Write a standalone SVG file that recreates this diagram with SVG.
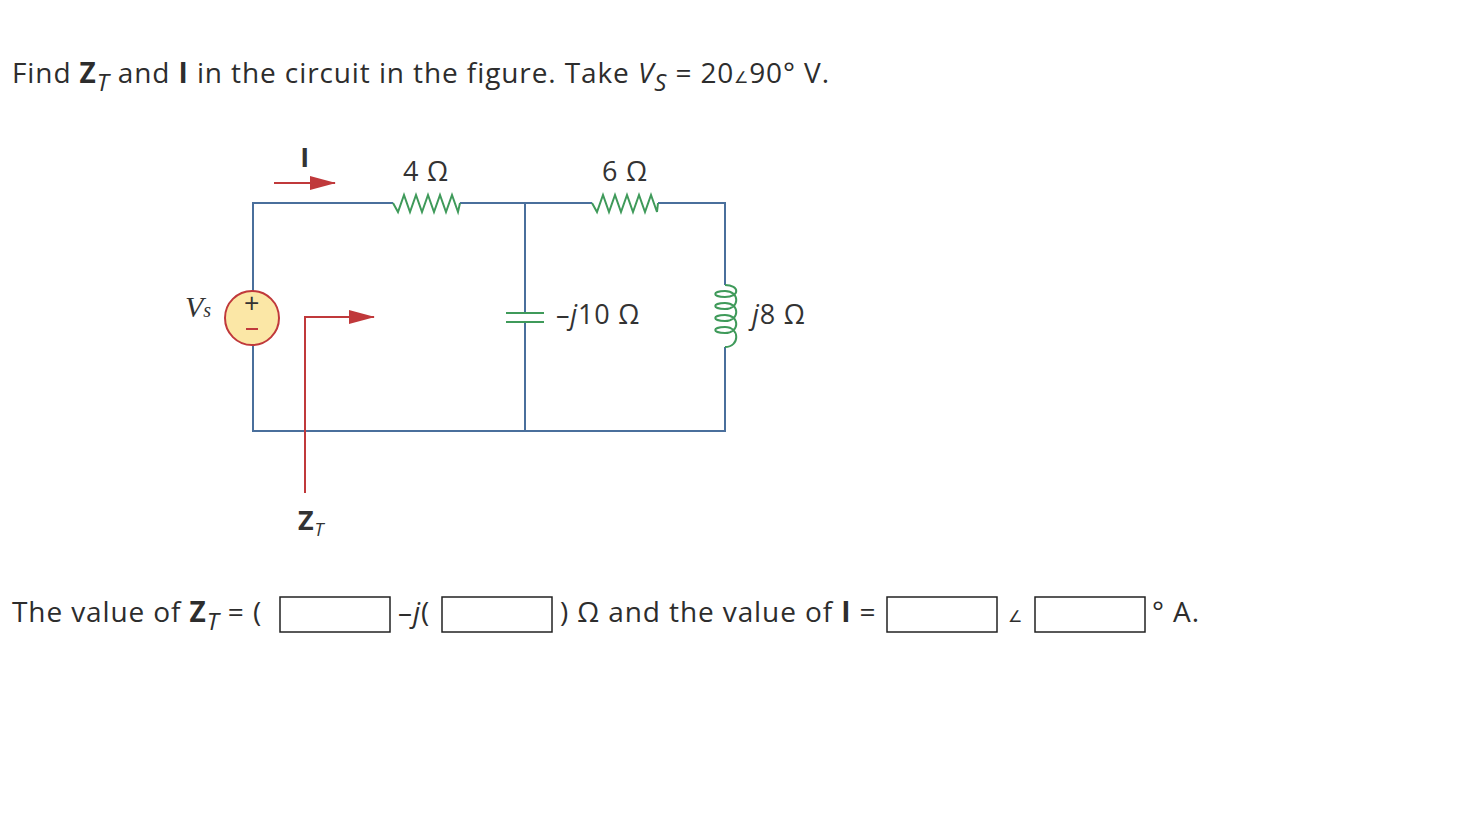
<svg xmlns="http://www.w3.org/2000/svg" width="1474" height="816" viewBox="0 0 1474 816">
<style>
.t{font-family:"Open Sans","Liberation Sans",sans-serif;font-size:28px;fill:#2d2d2d;letter-spacing:0.9px}
.c{font-family:"Open Sans","Liberation Sans",sans-serif;font-size:27px;fill:#333;letter-spacing:0.8px}
.w{stroke:#4a6f9c;stroke-width:2;fill:none}
.g{stroke:#3f9a5a;stroke-width:2;fill:none}
.r{stroke:#c0393b;stroke-width:2;fill:none}
.box{fill:#fff;stroke:#222;stroke-width:1.5}
</style>
<defs><marker id="ah" markerWidth="26" markerHeight="14" refX="25" refY="7" orient="auto" markerUnits="userSpaceOnUse"><path d="M0,0 L26,7 L0,14 Z" fill="#c0393b"/></marker></defs>
<rect width="1474" height="816" fill="#fff"/>
<text class="t" x="12" y="83">Find <tspan font-weight="bold">Z</tspan><tspan font-style="italic" font-size="24" dy="8">T</tspan><tspan dy="-8"> and </tspan><tspan font-weight="bold">I</tspan> in the circuit in the figure. Take <tspan font-style="italic">V</tspan><tspan font-style="italic" font-size="24" dy="8">S</tspan><tspan dy="-8"> = 20</tspan><tspan font-size="16">∠</tspan>90° V.</text>
<g id="connectors">
<path class="w" d="M253,291 V203 H393 M460,203 H592 M658,203 H725 V285 M725,347 V431 H253 V346 M525,203 V313 M525,322 V431"/>
<path class="r" d="M274,183 H335" marker-end="url(#ah)"/>
<path class="r" d="M305,493 V317 H374" marker-end="url(#ah)"/>
</g>
<g id="source"><ellipse cx="252" cy="318" rx="27" ry="27" fill="#fbe7a6" stroke="#c0393b" stroke-width="2"/>
<text class="c" x="252" y="313" font-size="22" text-anchor="middle" fill="#c0393b">+</text>
<path d="M246,329 H258" stroke="#c0393b" stroke-width="2"/>
<text x="198" y="317" font-family="Liberation Serif,serif" font-style="italic" font-size="30" text-anchor="middle" fill="#333">V<tspan font-size="20">s</tspan></text></g>
<g id="r4"><path class="g" d="M393,203 L398,212 L404,195 L410,212 L416,195 L422,212 L428,195 L434,212 L440,195 L446,212 L452,195 L458,212 L460,203"/>
<text class="c" x="426" y="181" text-anchor="middle">4 Ω</text></g>
<g id="r6"><path class="g" d="M592,203 L597,212 L603,195 L609,212 L615,195 L621,212 L627,195 L633,212 L639,195 L645,212 L651,195 L657,212 L658,203"/>
<text class="c" x="625" y="181" text-anchor="middle">6 Ω</text></g>
<g id="cap"><path class="g" d="M506,313 H544 M506,322 H544"/>
<text class="c" x="556" y="324">–<tspan font-style="italic">j</tspan>10 Ω</text></g>
<g id="ind"><path class="g" d="M725,285 C740,285 740,297 725,297 C712,297 712,291 725,291 C740,291 740,309 725,309 C712,309 712,303 725,303 C740,303 740,321 725,321 C712,321 712,315 725,315 C740,315 740,333 725,333 C712,333 712,327 725,327 C740,327 740,347 725,347"/>
<text class="c" x="752" y="324"><tspan font-style="italic">j</tspan>8 Ω</text></g>
<g id="labels"><text class="c" x="305" y="167" font-weight="bold" text-anchor="middle">I</text>
<text class="c" x="298" y="530" font-weight="bold">Z<tspan font-size="18" font-style="italic" font-weight="normal" dy="6">T</tspan></text></g>
<text class="t" x="12" y="622">The value of <tspan font-weight="bold">Z</tspan><tspan font-style="italic" font-size="24" dy="8">T</tspan><tspan dy="-8"> = (</tspan></text>
<rect class="box" x="280" y="597" width="110" height="35"/>
<text class="t" x="398" y="622">–<tspan font-style="italic">j</tspan>(</text>
<rect class="box" x="442" y="597" width="110" height="35"/>
<text class="t" x="560" y="622">) Ω and the value of <tspan font-weight="bold">I</tspan> =</text>
<rect class="box" x="887" y="597" width="110" height="35"/>
<text class="t" x="1008" y="622" style="font-size:16px">∠</text>
<rect class="box" x="1035" y="597" width="110" height="35"/>
<text class="t" x="1152" y="622">° A.</text>
</svg>
